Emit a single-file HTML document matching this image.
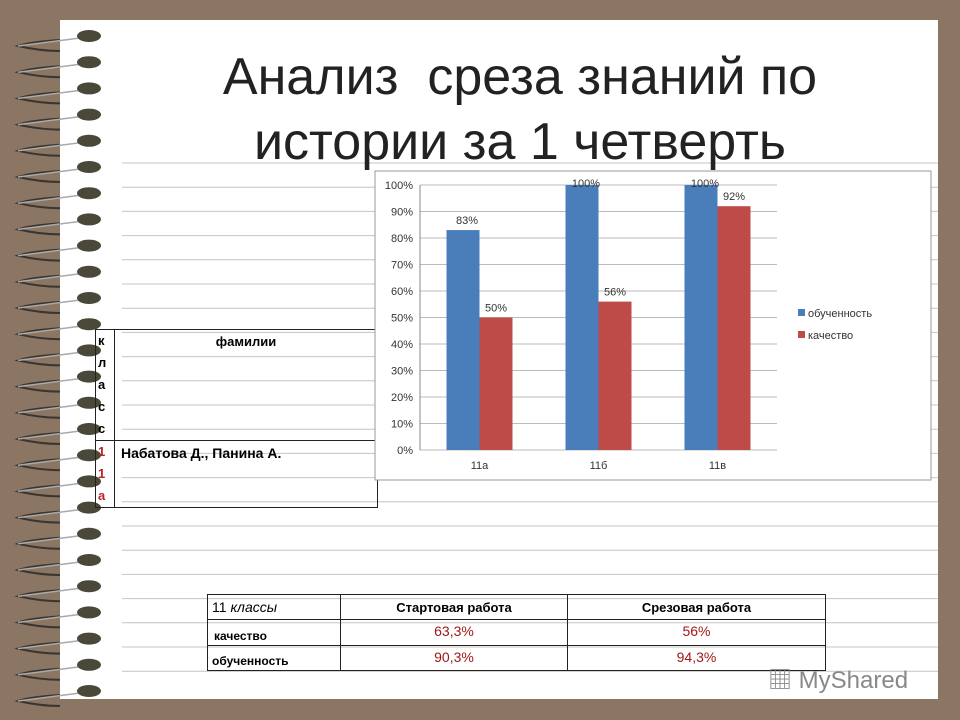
<!DOCTYPE html>
<html><head><meta charset="utf-8"><style>
body{margin:0;width:960px;height:720px;background:#8a7662;position:relative;overflow:hidden;font-family:"Liberation Sans","Noto Sans CJK SC",sans-serif}
#page{position:absolute;left:60px;top:20px;width:878px;height:679px;background:#fff}
.title{position:absolute;left:140px;width:760px;text-align:center;font-family:"Liberation Sans",sans-serif;font-size:52px;color:#222;line-height:70px}
table{border-collapse:collapse;position:absolute}
td{border:1px solid #222;padding:0}
</style></head><body>
<div id="page"></div>
<svg id="deco" width="960" height="720" style="position:absolute;left:0;top:0"></svg>
<div class="title" style="top:42px">Анализ&nbsp; среза знаний по</div>
<div class="title" style="top:107px">истории за 1 четверть</div>

<table style="left:95px;top:329px;width:283px;height:177px;font-weight:bold;font-size:13px">
<tr style="height:111px"><td style="width:16px;vertical-align:top;line-height:22px;padding-left:2px">к<br>л<br>а<br>с<br>с</td><td style="text-align:center;vertical-align:top;padding-top:4px">фамилии</td></tr>
<tr><td style="vertical-align:top;line-height:22px;color:#b22;padding-left:2px">1<br>1<br>а</td><td style="vertical-align:top;padding:4px 0 0 6px;font-size:14px">Набатова Д., Панина А.</td></tr>
</table>

<svg id="chart" width="960" height="720" style="position:absolute;left:0;top:0"></svg>

<table style="left:207px;top:594px;width:619px;height:77px;font-size:14px">
<tr style="height:25px"><td style="width:128px;padding-left:4px">11 <i>классы</i></td><td style="width:226px;text-align:center;font-weight:bold;font-size:13px">Стартовая работа</td><td style="text-align:center;font-weight:bold;font-size:13px">Срезовая работа</td></tr>
<tr style="height:26px"><td style="padding-left:6px;font-size:12px;padding-top:6px;font-weight:bold">качество</td><td style="text-align:center;color:#a01818;vertical-align:top;padding-top:3px">63,3%</td><td style="text-align:center;color:#a01818;vertical-align:top;padding-top:3px">56%</td></tr>
<tr><td style="padding-left:4px;font-size:12px;padding-top:6px;font-weight:bold">обученность</td><td style="text-align:center;color:#a01818;vertical-align:top;padding-top:3px">90,3%</td><td style="text-align:center;color:#a01818;vertical-align:top;padding-top:3px">94,3%</td></tr>
</table>
<div style="position:absolute;left:768px;top:660px;font-size:24px;color:#888">▦ MyShared</div>

<script>
const NS="http://www.w3.org/2000/svg";
function mk(p,t,a){const e=document.createElementNS(NS,t);for(const k in a)e.setAttribute(k,a[k]);p.appendChild(e);return e;}
const deco=document.getElementById('deco');
for(let y=163;y<695;y+=24.2){const l=mk(deco,'line',{x1:122,x2:938,y1:y,y2:y,stroke:'#c8c4b8','stroke-width':1});

}
for(let y=36;y<700;y+=26.2){const g=mk(deco,'g',{});


mk(g,'path',{d:`M60 ${y+4} Q30 ${y+6} 18 ${y+10} Q40 ${y+15} 60 ${y+15}`,fill:'none',stroke:'#3a3530','stroke-width':2});
mk(g,'line',{x1:18,y1:y+10,x2:80,y2:y+2,stroke:'#aaa','stroke-width':1.5});
mk(g,'ellipse',{cx:89,cy:y,rx:12,ry:6,fill:'#4a4838'});}

const categories=['11а','11б','11в'];
const learning=[83,100,100];
const quality=[50,56,92];
const ticks=[0,10,20,30,40,50,60,70,80,90,100];
const c=document.getElementById('chart');
const box=mk(c,'rect',{x:375,y:171,width:556,height:309,fill:'#fff',stroke:'#999'});


const x0=420,x1=777,y0=450,y100=185;
const Y=v=>y0+(y100-y0)*v/100;
const gw=(x1-x0)/categories.length;
ticks.forEach(t=>{
 const l=mk(c,'line',{x1:x0,x2:x1,y1:Y(t),y2:Y(t),stroke:'#bbb'});
 
 
 const tx=mk(c,'text',{x:413,y:Y(t)+4,'text-anchor':'end','font-size':11,fill:'#333'});tx.textContent=t+'%';
 
 
});
mk(c,'line',{x1:x0,x2:x0,y1:y100,y2:y0,stroke:'#888'});
const bw=33;
categories.forEach((cat,i)=>{
 const cx=x0+gw*(i+0.5);
 [[learning[i],'#4a7ebb',cx-bw],[quality[i],'#be4b48',cx]].forEach(([v,col,bx],j)=>{
  const r=mk(c,'rect',{x:bx,y:Y(v),width:bw,height:y0-Y(v),fill:col});
  
  
  const t=mk(c,'text',{x:bx+bw/2+(j?0:4),y:Y(v)-(v>=100?-2:6),'text-anchor':'middle','font-size':11,fill:'#333'});t.textContent=v+'%';
  
  
 });
 const t=mk(c,'text',{x:cx,y:469,'text-anchor':'middle','font-size':11,fill:'#333'});t.textContent=cat;
 
 
});
[['обученность','#4a7ebb',314],['качество','#be4b48',336]].forEach(([n,col,y])=>{
 const g=mk(c,'g',{});
 
 
 mk(g,'rect',{x:798,y:y-5,width:7,height:7,fill:col});
 const t=mk(g,'text',{x:808,y:y+3,'font-size':11,fill:'#333'});t.textContent=n;
});
</script>
</body></html>
